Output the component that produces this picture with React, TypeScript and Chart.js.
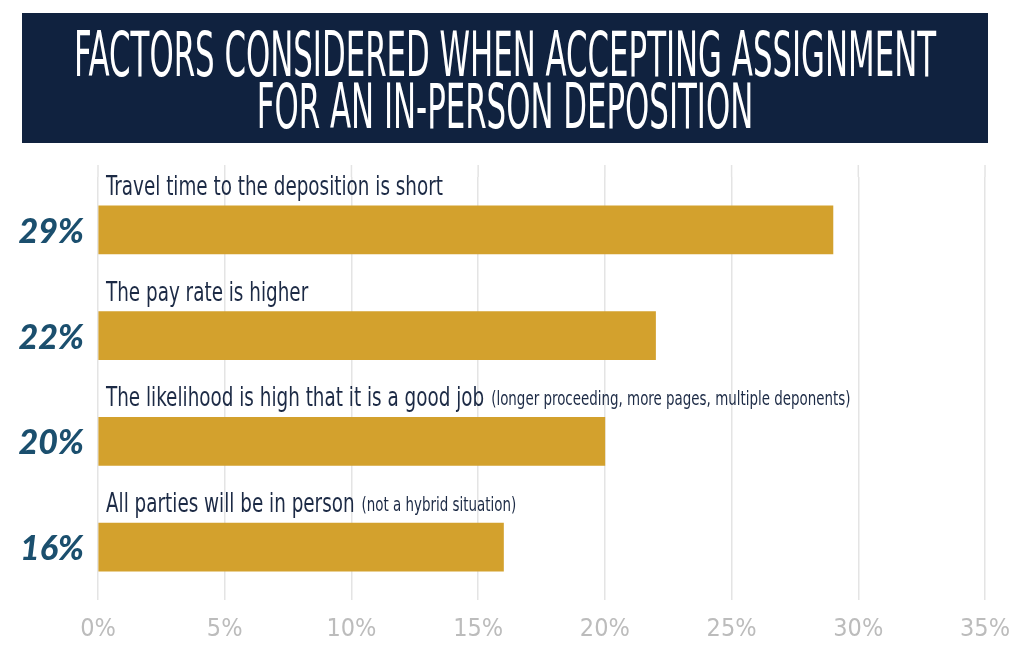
import React, { useEffect, useRef } from 'react';
import { Chart, registerables } from 'chart.js';

Chart.register(...registerables);

const titleLines = ['FACTORS CONSIDERED WHEN ACCEPTING ASSIGNMENT', 'FOR AN IN-PERSON DEPOSITION'];
const factors = [
    'Travel time to the deposition is short',
    'The pay rate is higher',
    'The likelihood is high that it is a good job',
    'All parties will be in person',
];
const notes = ['', '', '(longer proceeding, more pages, multiple deponents)', '(not a hybrid situation)'];
const shares = [29, 22, 20, 16];
const axisMax = 35;
const axisStep = 5;

const NAVY = '#10223f';
const GOLD = '#d3a12d';
const TEAL = '#1b4f6e';
const LABEL = '#1c2a45';
const GRID = '#e4e4e4';
const NARROW = "'Liberation Sans Narrow', 'DejaVu Sans Condensed', sans-serif";

// draws text squeezed horizontally by sx
function drawSqueezed(ctx: CanvasRenderingContext2D, text: string, x: number, y: number, sx: number) {
    ctx.save();
    ctx.translate(x, y);
    ctx.scale(sx, 1);
    ctx.fillText(text, 0, 0);
    ctx.restore();
}

const decorPlugin = {
    id: 'decor',
    beforeDraw(chart: any) {
        const ctx: CanvasRenderingContext2D = chart.ctx;
        ctx.save();
        // title banner
        ctx.fillStyle = NAVY;
        ctx.fillRect(22, 13, 966, 130);
        ctx.fillStyle = '#ffffff';
        ctx.font = `62px ${NARROW}`;
        ctx.textBaseline = 'alphabetic';
        const w0 = ctx.measureText(titleLines[0]).width;
        const sx = 862 / w0;
        titleLines.forEach((line, i) => {
            const w = ctx.measureText(line).width * sx;
            drawSqueezed(ctx, line, 505 - w / 2, 76 + i * 52, sx);
        });
        // gridlines run a bit above the plot area
        const xs = chart.scales.x;
        ctx.strokeStyle = GRID;
        ctx.lineWidth = 1.5;
        xs.ticks.forEach((t: any) => {
            const px = xs.getPixelForValue(t.value);
            ctx.beginPath();
            ctx.moveTo(px, 165);
            ctx.lineTo(px, chart.chartArea.top);
            ctx.stroke();
        });
        ctx.restore();
    },
    afterDatasetsDraw(chart: any) {
        const ctx: CanvasRenderingContext2D = chart.ctx;
        const meta = chart.getDatasetMeta(0);
        const left = chart.chartArea.left;
        ctx.save();
        ctx.font = `26px ${NARROW}`;
        const sx = 337 / ctx.measureText(factors[0]).width;
        meta.data.forEach((bar: any, i: number) => {
            const top = bar.y - bar.height / 2;
            ctx.fillStyle = LABEL;
            ctx.textBaseline = 'alphabetic';
            ctx.font = `26px ${NARROW}`;
            drawSqueezed(ctx, factors[i], left + 8, top - 11, sx);
            if (notes[i]) {
                const mw = ctx.measureText(factors[i]).width * sx;
                ctx.font = `19px ${NARROW}`;
                drawSqueezed(ctx, notes[i], left + 8 + mw + 7, top - 12, sx);
            }
            ctx.fillStyle = TEAL;
            ctx.textBaseline = 'middle';
            ctx.textAlign = 'right';
            ctx.font = `italic 900 34px Lato, 'Open Sans', sans-serif`;
            ctx.fillText(shares[i] + '%', 84, bar.y + 2);
            ctx.textAlign = 'left';
        });
        ctx.restore();
    },
};

function FactorsChart() {
    const chartRef = useRef<HTMLCanvasElement | null>(null);
    const chartInstance = useRef<Chart | null>(null);

    useEffect(() => {
        document.body.style.margin = '0';
        if (!chartRef.current) return;
        const ctx = chartRef.current.getContext('2d');
        if (!ctx) return;

        chartInstance.current = new Chart(ctx, {
            type: 'bar',
            data: {
                labels: factors,
                datasets: [
                    {
                        data: shares,
                        backgroundColor: GOLD,
                        barThickness: 48,
                        borderWidth: 0,
                    },
                ],
            },
            options: {
                indexAxis: 'y',
                animation: false,
                responsive: false,
                maintainAspectRatio: false,
                layout: { padding: { left: 98, right: 34, top: 177, bottom: 0 } },
                plugins: {
                    legend: { display: false },
                    tooltip: { enabled: false },
                },
                scales: {
                    x: {
                        min: 0,
                        max: axisMax,
                        border: { display: false },
                        grid: { color: GRID, lineWidth: 1.5, drawTicks: false },
                        ticks: {
                            stepSize: axisStep,
                            padding: 14,
                            color: '#bcbcbc',
                            font: { family: NARROW, size: 25 },
                            callback: (v: any) => v + '%',
                        },
                    },
                    y: {
                        display: false,
                    },
                },
            },
            plugins: [decorPlugin],
        });

        return () => {
            if (chartInstance.current) {
                chartInstance.current.destroy();
                chartInstance.current = null;
            }
        };
    }, []);

    return <canvas ref={chartRef} width={1024} height={658} style={{ display: 'block' }} />;
}

export default function App() {
    return <FactorsChart />;
}
